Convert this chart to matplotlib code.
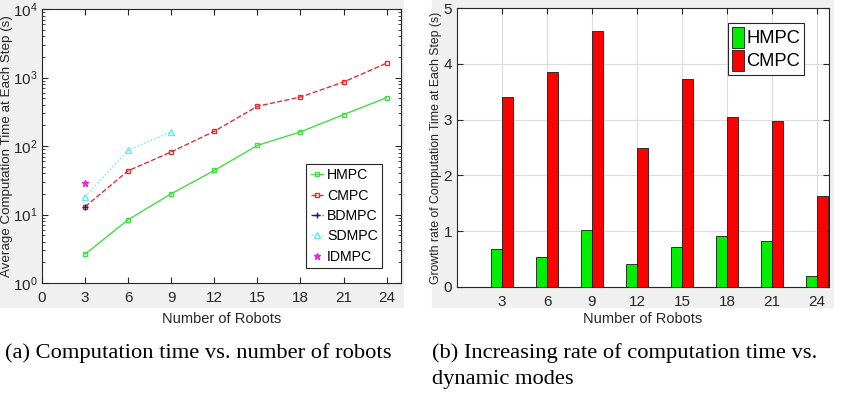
import numpy as np
import matplotlib.pyplot as plt
from matplotlib.patches import Rectangle

# --- data ---
robots = [3, 6, 9, 12, 15, 18, 21, 24]
hmpc_time = [2.64, 8.4, 20.1, 44, 102, 161, 287, 508]
cmpc_time = [13.0, 43.5, 82, 164, 380, 519, 858, 1622]
bdmpc_robots = [3]
bdmpc_time = [13.0]
sdmpc_robots = [3, 6, 9]
sdmpc_time = [18.2, 87, 161]
idmpc_robots = [3]
idmpc_time = [28.5]

hmpc_rate = [0.68, 0.53, 1.03, 0.42, 0.71, 0.91, 0.83, 0.19]
cmpc_rate = [3.40, 3.85, 4.59, 2.49, 3.73, 3.04, 2.97, 1.63]

plt.rcParams['font.family'] = ['Liberation Sans', 'DejaVu Sans']
dark = '#262626'

W, H = 844, 393
fig = plt.figure(figsize=(W / 100, H / 100), dpi=100)

# grey panel backgrounds (MATLAB figure colour)
for x0, x1 in [(0, 403), (432, 833)]:
    fig.patches.append(Rectangle((x0 / W, 1 - 307 / H), (x1 - x0) / W, 307 / H,
                                 transform=fig.transFigure, color='#f0f0f0', zorder=-5))

# ---------- (a) computation time ----------
ax1 = fig.add_axes([42 / W, 1 - 283 / H, (401 - 42) / W, (283 - 9) / H])
ax1.plot(robots, hmpc_time, '-s', color='#44dd44', ms=3.5, mfc='none', lw=1, label='HMPC')
ax1.plot(robots, cmpc_time, '--s', color='#dd3333', ms=3.5, mfc='none', lw=1, label='CMPC')
ax1.plot(bdmpc_robots, bdmpc_time, '-.+', color='#1a1aa0', ms=5, lw=1, label='BDMPC')
ax1.plot(sdmpc_robots, sdmpc_time, ':^', color='#66e8ee', ms=4, mfc='none', lw=1, label='SDMPC')
ax1.plot(idmpc_robots, idmpc_time, '*', color='#ee22ee', ms=5, lw=1, label='IDMPC')
ax1.set_yscale('log')
ax1.set_ylim(1, 1e4)
ax1.set_xlim(0, 25)
ax1.set_xticks(range(0, 25, 3))
ax1.set_xlabel('Number of Robots', fontsize=10.5, color=dark, labelpad=5)
ax1.set_ylabel('Average Computation Time at Each Step (s)', fontsize=9.6, color=dark, labelpad=0)
ax1.tick_params(which='both', direction='in', top=True, right=True, colors=dark, labelsize=11)
ax1.tick_params(which='major', length=4)
ax1.tick_params(which='minor', length=2)
ax1.tick_params(axis='x', pad=6)
for s in ax1.spines.values():
    s.set_color(dark)
    s.set_linewidth(0.8)
leg1 = ax1.legend(loc='lower right', bbox_to_anchor=(0.947, 0.055), borderaxespad=0,
                  fontsize=10.2, handlelength=0.9, handletextpad=0.25, borderpad=0.3,
                  labelspacing=0.45, fancybox=False, edgecolor=dark, framealpha=1)
leg1.get_frame().set_linewidth(0.8)

# ---------- (b) growth rate ----------
ax2 = fig.add_axes([457 / W, 1 - 287 / H, (829 - 457) / W, (287 - 8) / H])
x = np.array(robots)
ax2.bar(x - 0.39, hmpc_rate, width=0.72, color='#00ee00', edgecolor='#1a1a1a', lw=0.6,
        label='HMPC', zorder=3)
ax2.bar(x + 0.39, cmpc_rate, width=0.72, color='#ff0000', edgecolor='#1a1a1a', lw=0.6,
        label='CMPC', zorder=3)
ax2.set_xlim(0, 24.8)
ax2.set_ylim(0, 5)
ax2.set_xticks(robots)
ax2.set_yticks(range(0, 6))
ax2.grid(True, color='#dcdcdc', lw=0.8, zorder=0)
ax2.set_axisbelow(True)
ax2.set_xlabel('Number of Robots', fontsize=10.5, color=dark, labelpad=2)
ax2.set_ylabel('Growth rate of Computation Time at Each Step (s)', fontsize=8.8, color=dark, labelpad=1)
ax2.tick_params(direction='in', top=True, right=True, colors=dark, labelsize=11, length=4)
ax2.tick_params(axis='x', pad=6)
for s in ax2.spines.values():
    s.set_color(dark)
    s.set_linewidth(0.8)
leg2 = ax2.legend(loc='upper right', bbox_to_anchor=(0.933, 0.946), borderaxespad=0,
                  fontsize=13.2, handlelength=0.65, handleheight=1.4, handletextpad=0.15,
                  borderpad=0.2, labelspacing=0.1, fancybox=False, edgecolor=dark, framealpha=1)
leg2.get_frame().set_linewidth(0.8)

# ---------- captions ----------
cap = dict(fontsize=16.2, family=['Liberation Serif', 'DejaVu Serif'], color='black', va='baseline')
fig.text(5 / W, 1 - 358 / H, '(a) Computation time vs. number of robots', **cap)
fig.text(432 / W, 1 - 358 / H, '(b) Increasing rate of computation time vs.', **cap)
fig.text(432 / W, 1 - 384 / H, 'dynamic modes', **cap)

fig.savefig('out.png', dpi=100, facecolor='white')
